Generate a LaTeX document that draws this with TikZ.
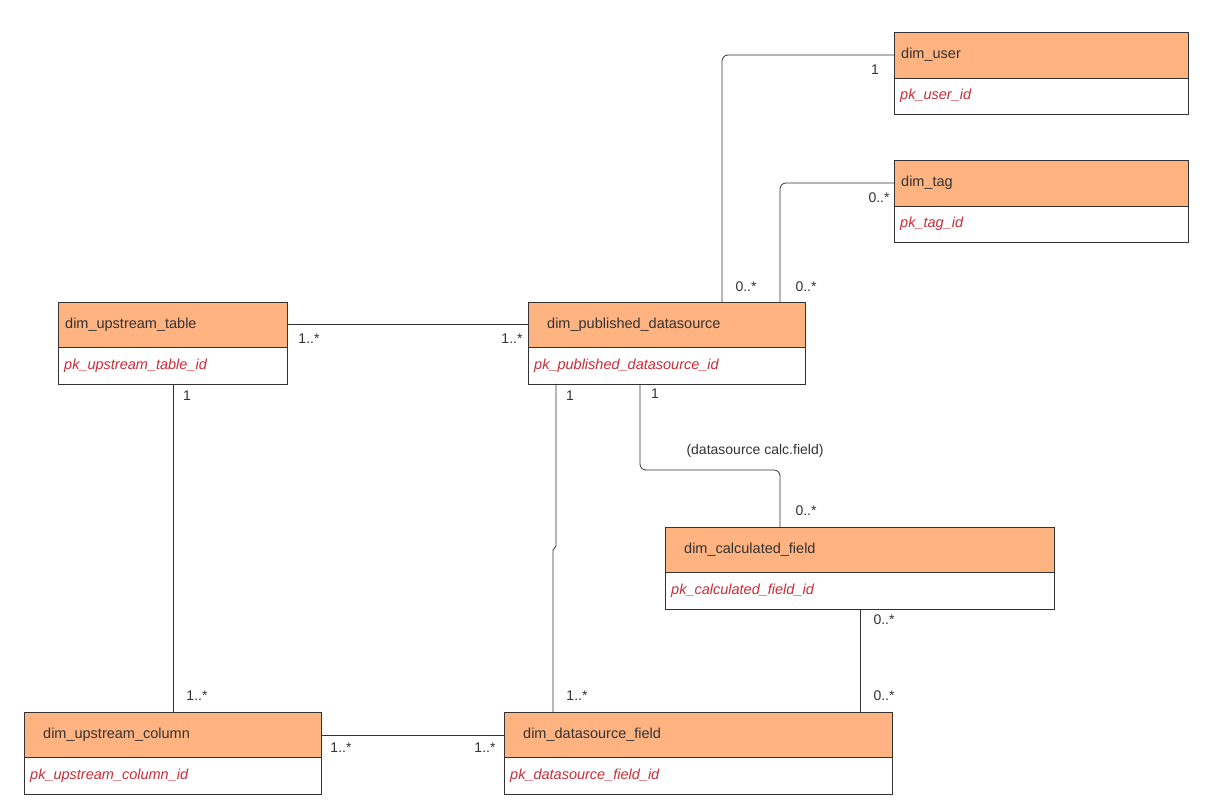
\documentclass[tikz,border=0pt]{standalone}
\usepackage{fontspec}
\setmainfont{Liberation Sans}
\begin{document}
\definecolor{hdr}{HTML}{FFB380}
\definecolor{pk}{HTML}{C92D39}
\definecolor{ln}{HTML}{333333}
\begin{tikzpicture}[x=1pt,y=-1pt,
  hd/.style={draw=ln,fill=hdr,line width=0.8pt},
  bd/.style={draw=ln,fill=white,line width=0.8pt},
  t/.style={anchor=west,font=\fontsize{14.5}{16}\selectfont,text=ln,inner sep=0},
  p/.style={anchor=west,font=\fontsize{14.5}{16}\selectfont\itshape,text=pk,inner sep=0},
  lb/.style={font=\fontsize{14}{16}\selectfont,text=ln,inner sep=0},
  c/.style={draw=ln,line width=0.8pt,rounded corners=6pt}]
\useasboundingbox (0,0) rectangle (1216,810);
\newcommand{\ent}[8]{% name x1 x2 y1 y2 y3 title pk
  \path[hd] (#2,#4) rectangle (#3,#5);
  \path[bd] (#2,#5) rectangle (#3,#6);
  \node[t] (#1t) at (#2+7,{(#4+#5)/2}) {#7};
  \node[p] (#1p) at (#2+6,{(#5+#6)/2}) {#8};
  \coordinate (#1) at (#2,#4);}
\ent{user}{894}{1188}{32}{78}{114}{dim\_user}{pk\_user\_id}
\ent{tag}{894}{1188}{160}{206}{242}{dim\_tag}{pk\_tag\_id}
\ent{ut}{58}{287}{302}{347}{384}{dim\_upstream\_table}{pk\_upstream\_table\_id}
\ent{pd}{528}{805}{302}{347}{384}{\hspace{12pt}dim\_published\_datasource}{pk\_published\_datasource\_id}
\ent{cf}{665}{1054}{527}{572}{609}{\hspace{12pt}dim\_calculated\_field}{pk\_calculated\_field\_id}
\ent{uc}{24}{321}{712}{757}{794}{\hspace{12pt}dim\_upstream\_column}{pk\_upstream\_column\_id}
\ent{df}{504}{892}{712}{757}{794}{\hspace{12pt}dim\_datasource\_field}{pk\_datasource\_field\_id}
\coordinate (a1) at (894,55); \coordinate (a2) at (722,302);
\draw[c] (a1) -| (a2);
\coordinate (b1) at (894,183); \coordinate (b2) at (780,302);
\draw[c] (b1) -| (b2);
\coordinate (c1) at (287,324); \coordinate (c2) at (528,324);
\draw[c] (c1) -- (c2);
\coordinate (d1) at (173,384); \coordinate (d2) at (173,712);
\draw[c] (d1) -- (d2);
\coordinate (e1) at (556,384); \coordinate (e2) at (553,712);
\draw[c,rounded corners=0] (e1) -- (556,546) -- (553,550) -- (e2);
\coordinate (f1) at (640,384); \coordinate (f2) at (780,527);
\draw[c] (f1) -- (640,470) -- (780,470) -- (f2);
\coordinate (g1) at (860,609); \coordinate (g2) at (860,712);
\draw[c] (g1) -- (g2);
\coordinate (h1) at (321,735); \coordinate (h2) at (504,735);
\draw[c] (h1) -- (h2);
\node[lb] (l1) at (875,70) {1};
\node[lb] (l2) at (746,287) {0..*};
\node[lb] (l3) at (879,198) {0..*};
\node[lb] (l4) at (806,287) {0..*};
\node[lb] (l5) at (309,339) {1..*};
\node[lb] (l6) at (512,339) {1..*};
\node[lb] (l7) at (187,396) {1};
\node[lb] (l8) at (197,696) {1..*};
\node[lb] (l9) at (570,396) {1};
\node[lb] (l10) at (577,696) {1..*};
\node[lb] (l11) at (655,394) {1};
\node[lb] (l12) at (755,451) {(datasource calc.field)};
\node[lb] (l13) at (806,511) {0..*};
\node[lb] (l14) at (884,620) {0..*};
\node[lb] (l15) at (884,696) {0..*};
\node[lb] (l16) at (341,748) {1..*};
\node[lb] (l17) at (485,748) {1..*};
\end{tikzpicture}
\end{document}
